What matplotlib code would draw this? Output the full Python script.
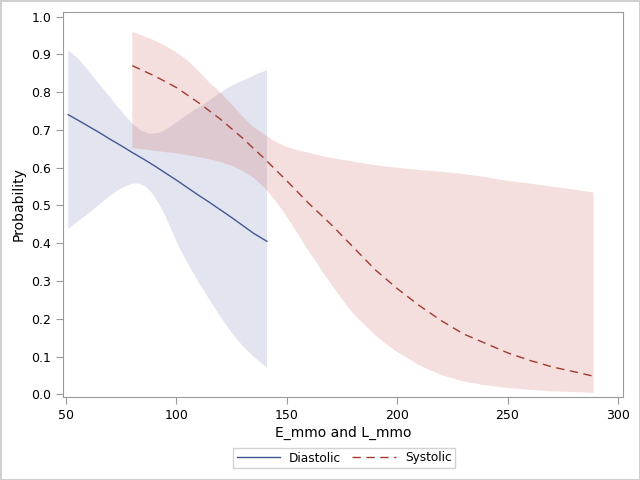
import matplotlib
matplotlib.use("Agg")
import matplotlib.pyplot as plt
from matplotlib.lines import Line2D

# Diastolic: fitted probability + confidence band
dia_x = [51, 55, 60, 65, 70, 75, 80, 85, 90, 95, 100, 105, 110, 115, 120, 125, 130, 135, 141]
dia_p = [0.740, 0.727, 0.710, 0.693, 0.675, 0.658, 0.640, 0.623, 0.605, 0.586, 0.567, 0.547,
         0.527, 0.508, 0.488, 0.468, 0.447, 0.426, 0.405]
dia_lo_x = [51, 55, 60, 65, 70, 75, 80, 83, 86, 89, 92, 95, 98, 101, 105, 110, 115, 120, 125,
            130, 135, 141]
dia_lo = [0.438, 0.456, 0.478, 0.502, 0.526, 0.546, 0.558, 0.558, 0.550, 0.532, 0.505, 0.472,
          0.432, 0.392, 0.348, 0.297, 0.250, 0.205, 0.163, 0.128, 0.100, 0.070]
dia_hi_x = [51, 56, 62, 68, 74, 80, 84, 88, 92, 96, 101, 106, 112, 118, 124, 129, 133, 137, 141]
dia_hi = [0.910, 0.886, 0.843, 0.800, 0.757, 0.716, 0.698, 0.689, 0.692, 0.703, 0.724, 0.745,
          0.766, 0.791, 0.814, 0.828, 0.838, 0.849, 0.858]

# Systolic
sys_x = [80, 90, 100, 110, 120, 130, 140, 150, 160, 170, 180, 190, 200, 210, 220, 230, 240,
         250, 260, 270, 280, 289]
sys_p = [0.870, 0.843, 0.812, 0.772, 0.728, 0.678, 0.623, 0.565, 0.505, 0.450, 0.390, 0.330,
         0.280, 0.235, 0.195, 0.160, 0.135, 0.110, 0.090, 0.073, 0.060, 0.048]
sys_b_x = [80, 90, 95, 100, 105, 110, 115, 120, 125, 130, 135, 140, 145, 150, 155, 160, 165,
           170, 175, 180, 185, 190, 195, 200, 210, 220, 230, 240, 250, 260, 270, 280, 289]
sys_lo = [0.652, 0.645, 0.641, 0.638, 0.633, 0.628, 0.622, 0.615, 0.605, 0.591, 0.573, 0.546,
          0.512, 0.470, 0.425, 0.378, 0.335, 0.292, 0.252, 0.215, 0.185, 0.157, 0.133, 0.112,
          0.077, 0.051, 0.034, 0.024, 0.017, 0.012, 0.008, 0.006, 0.004]
sys_hi = [0.960, 0.937, 0.922, 0.905, 0.884, 0.855, 0.825, 0.798, 0.768, 0.735, 0.707, 0.687,
          0.668, 0.655, 0.646, 0.639, 0.632, 0.626, 0.621, 0.616, 0.611, 0.607, 0.603, 0.600,
          0.594, 0.589, 0.583, 0.575, 0.565, 0.558, 0.550, 0.542, 0.534]

C_DIA = "#445694"
C_SYS = "#A23A2E"
F_DIA = "#6F7EB3"
F_SYS = "#D05B5B"
GRAY = "#9a9a9a"

plt.rcParams.update({"font.family": "DejaVu Sans", "font.size": 9})

fig = plt.figure(figsize=(6.4, 4.8), dpi=100)
fig.patch.set_edgecolor("#d0d0d0")
fig.patch.set_linewidth(2)
ax = fig.add_axes([63 / 640, 1 - 397 / 480, 560 / 640, 385 / 480])

# confidence bands as closed polygons (upper edge out, lower edge back)
ax.fill(dia_hi_x + dia_lo_x[::-1], dia_hi + dia_lo[::-1], color=F_DIA, alpha=0.2, linewidth=0)
ax.fill(sys_b_x + sys_b_x[::-1], sys_hi + sys_lo[::-1], color=F_SYS, alpha=0.2, linewidth=0)
ax.plot(dia_x, dia_p, color=C_DIA, lw=1)
ax.plot(sys_x, sys_p, color=C_SYS, lw=1, dashes=(6, 4))

ax.set_xlim(48.6, 302.3)
ax.set_ylim(-0.007, 1.012)
ax.set_xticks([50, 100, 150, 200, 250, 300])
ax.set_yticks([i / 10 for i in range(11)])
ax.set_yticklabels([f"{i / 10:.1f}" for i in range(11)])
for s in ax.spines.values():
    s.set_color(GRAY)
ax.tick_params(color=GRAY, length=5, labelsize=9, labelcolor="black")
ax.set_xlabel("E_mmo and L_mmo", fontsize=10, labelpad=3)
ax.set_ylabel("Probability", fontsize=10, labelpad=4)

handles = [Line2D([], [], color=C_DIA, lw=1),
           Line2D([], [], color=C_SYS, lw=1, dashes=(6, 4))]
leg = fig.legend(handles, ["Diastolic", "Systolic"], loc="center", ncol=2,
                 bbox_to_anchor=(344 / 640, 1 - 458 / 480), fontsize=8.7,
                 fancybox=False, edgecolor="#c8c8c8", handlelength=3.6,
                 columnspacing=0.9, borderpad=0.3, handletextpad=0.75)
leg.get_frame().set_linewidth(1)

fig.savefig("out.png", dpi=100, edgecolor=fig.get_edgecolor())
